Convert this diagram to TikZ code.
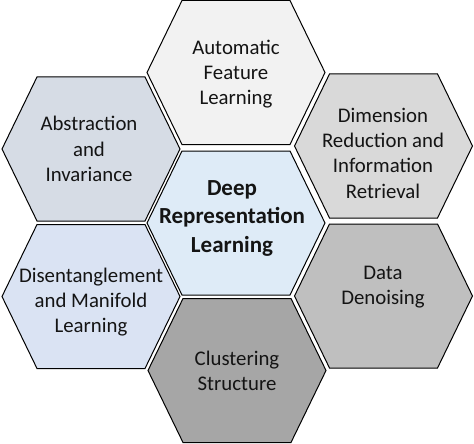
\documentclass[tikz,border=0pt]{standalone}
\usepackage{fontspec}
\setmainfont{Carlito}
\definecolor{cTop}{HTML}{F2F2F2}
\definecolor{cCenter}{HTML}{DEEBF7}
\definecolor{cAbs}{HTML}{D6DCE5}
\definecolor{cDis}{HTML}{DAE3F3}
\definecolor{cDim}{HTML}{D9D9D9}
\definecolor{cDen}{HTML}{BFBFBF}
\definecolor{cClu}{HTML}{A6A6A6}
\definecolor{cTxt}{HTML}{141414}
\newcommand{\hexcell}[3]{%
  \filldraw[hexline, fill=#3] (#1-89,#2) -- (#1-54,#2-72) -- (#1+54,#2-72) -- (#1+89,#2) -- (#1+54,#2+72) -- (#1-54,#2+72) -- cycle;}
\begin{document}
\begin{tikzpicture}[x=1pt,y=-1pt,
  hexline/.style={draw=black, line width=1pt, line join=miter},
  lbl/.style={align=center, inner sep=0pt, text=cTxt, font=\fontsize{20.8}{25.3}\selectfont},
  lblb/.style={align=center, inner sep=0pt, text=cTxt, font=\bfseries\fontsize{23}{28.5}\selectfont}]
\useasboundingbox (0,0) rectangle (474,444);
\hexcell{236}{72.5}{cTop}
\hexcell{236}{223}{cCenter}
\hexcell{237}{370.5}{cClu}
\hexcell{91}{149}{cAbs}
\hexcell{91}{296.5}{cDis}
\hexcell{383.5}{146}{cDim}
\hexcell{383.5}{296}{cDen}
\node[lbl] (auto) at (236,74) {Automatic\\Feature\\Learning};
\node[lblb] (deep) at (232,218) {Deep\\Representation\\Learning};
\node[lbl] (abs) at (89,149) {Abstraction\\and\\Invariance};
\node[lbl] (dis) at (91,302) {Disentanglement\\and Manifold\\Learning};
\node[lbl] (dim) at (383,153) {Dimension\\Reduction and\\Information\\Retrieval};
\node[lbl] (den) at (383,287) {Data\\Denoising};
\node[lbl] (clu) at (237,371) {Clustering\\Structure};
\end{tikzpicture}
\end{document}
